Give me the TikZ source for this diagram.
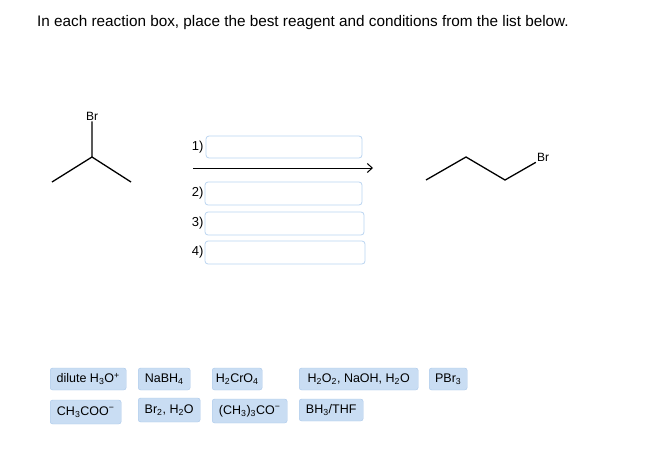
\documentclass[tikz,border=0pt]{standalone}
\usepackage{fontspec}
\setmainfont{Liberation Sans}
\usetikzlibrary{arrows.meta}
\definecolor{chipfill}{HTML}{C9DDF3}
\definecolor{chipdraw}{HTML}{A9C7EA}
\definecolor{boxdraw}{HTML}{B9D4F0}
\tikzset{
 chip/.style={draw=chipdraw,fill=chipfill,rounded corners=2.5pt,font=\fontsize{12.5}{14}\selectfont,inner sep=0pt,anchor=west},
 ansbox/.style={draw=boxdraw,rounded corners=3pt,line width=0.8pt},
 bond/.style={line width=1.3pt},
 lab/.style={font=\fontsize{13}{15}\selectfont,anchor=east},
 small/.style={font=\fontsize{12}{14}\selectfont}
}
\begin{document}
\begin{tikzpicture}[x=1pt,y=-1pt]
\useasboundingbox (0,0) rectangle (672,463);
\node[anchor=west,font=\fontsize{15.3}{18}\selectfont,inner sep=0pt] (title) at (37,23) {In each reaction box, place the best reagent and conditions from the list below.};
% left molecule
\node[small,inner sep=1pt] (br1) at (92,116) {Br};
\coordinate (c1) at (92,157);
\draw[bond] (br1.south) -- (c1) (52,182) -- (c1) -- (131,182);
% right molecule
\node[small,inner sep=1pt] (br2) at (543,157) {Br};
\draw[bond] (426,180) -- (466,157) -- (505,180) -- (br2.south west);
% arrow
\coordinate (a1) at (193,168); \coordinate (a2) at (373,168);
\draw[line width=1pt,-{Straight Barb[length=5pt,width=9pt]}] (a1) -- (a2);
% boxes
\draw[ansbox] (206,136) rectangle (362,158);
\draw[ansbox] (205,182) rectangle (362,205);
\draw[ansbox] (205,212) rectangle (364,235);
\draw[ansbox] (205,241) rectangle (365,264);
\node[lab] (l1) at (207,147) {1)};
\node[lab] (l2) at (207,193) {2)};
\node[lab] (l3) at (207,223) {3)};
\node[lab] (l4) at (207,252) {4)};
% chips
\node[chip,minimum width=76pt,minimum height=22pt] (c1a) at (50,379) {dilute H\textsubscript{3}O\textsuperscript{+}};
\node[chip,minimum width=52pt,minimum height=22pt] (c2a) at (138,379) {NaBH\textsubscript{4}};
\node[chip,minimum width=50pt,minimum height=22pt] (c3a) at (212,379) {H\textsubscript{2}CrO\textsubscript{4}};
\node[chip,minimum width=119pt,minimum height=22pt] (c4a) at (299,379) {H\textsubscript{2}O\textsubscript{2}, NaOH, H\textsubscript{2}O};
\node[chip,minimum width=38pt,minimum height=22pt] (c5a) at (429,379) {PBr\textsubscript{3}};
\node[chip,minimum width=71pt,minimum height=24pt] (c1b) at (50,412) {CH\textsubscript{3}COO\textsuperscript{−}};
\node[chip,minimum width=62pt,minimum height=24pt] (c2b) at (138,410) {Br\textsubscript{2}, H\textsubscript{2}O};
\node[chip,minimum width=75pt,minimum height=24pt] (c3b) at (212,411) {(CH\textsubscript{3})\textsubscript{3}CO\textsuperscript{−}};
\node[chip,minimum width=64pt,minimum height=22pt] (c4b) at (299,410) {BH\textsubscript{3}/THF};
\end{tikzpicture}
\end{document}
